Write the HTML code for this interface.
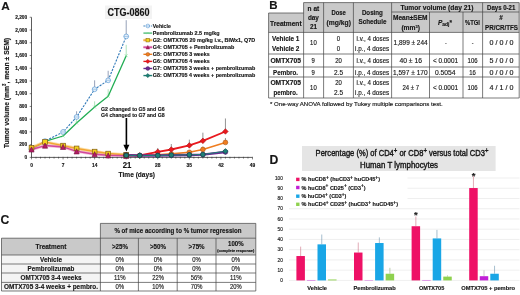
<!DOCTYPE html>
<html><head><meta charset="utf-8"><title>Figure</title>
<style>html,body{margin:0;padding:0;background:#fff;}svg{display:block;}text{font-family:"Liberation Sans", sans-serif;fill:#161616;stroke:#161616;stroke-width:0.14px;}</style>
</head><body>
<svg width="520" height="295" viewBox="0 0 520 295">
<rect x="0" y="0" width="520" height="295" fill="#ffffff"/>
<g id="panelA">
<text x="1.20" y="10.20" font-size="11.80" font-weight="bold" text-anchor="start">A</text>
<rect x="105" y="5.5" width="47" height="13.5" fill="#f3f3f3"/>
<text x="107.40" y="15.70" font-size="10.00" font-weight="bold" text-anchor="start" textLength="42.20" lengthAdjust="spacingAndGlyphs">CTG-0860</text>
<path d="M31.5 17.3 V157.4 H252.5" fill="none" stroke="#333" stroke-width="0.8"/>
<text x="27.20" y="159.15" font-size="4.80" font-weight="bold" text-anchor="end" fill="#333">0</text>
<text x="27.20" y="146.41" font-size="4.80" font-weight="bold" text-anchor="end" fill="#333">200</text>
<text x="27.20" y="133.67" font-size="4.80" font-weight="bold" text-anchor="end" fill="#333">400</text>
<text x="27.20" y="120.93" font-size="4.80" font-weight="bold" text-anchor="end" fill="#333">600</text>
<text x="27.20" y="108.19" font-size="4.80" font-weight="bold" text-anchor="end" fill="#333">800</text>
<text x="27.20" y="95.45" font-size="4.80" font-weight="bold" text-anchor="end" fill="#333">1,000</text>
<text x="27.20" y="82.71" font-size="4.80" font-weight="bold" text-anchor="end" fill="#333">1,200</text>
<text x="27.20" y="69.97" font-size="4.80" font-weight="bold" text-anchor="end" fill="#333">1,400</text>
<text x="27.20" y="57.23" font-size="4.80" font-weight="bold" text-anchor="end" fill="#333">1,600</text>
<text x="27.20" y="44.49" font-size="4.80" font-weight="bold" text-anchor="end" fill="#333">1,800</text>
<text x="27.20" y="31.75" font-size="4.80" font-weight="bold" text-anchor="end" fill="#333">2,000</text>
<text x="27.20" y="19.01" font-size="4.80" font-weight="bold" text-anchor="end" fill="#333">2,200</text>
<path d="M31.5 157.40 h-1.8 M31.5 144.66 h-1.8 M31.5 131.92 h-1.8 M31.5 119.18 h-1.8 M31.5 106.44 h-1.8 M31.5 93.70 h-1.8 M31.5 80.96 h-1.8 M31.5 68.22 h-1.8 M31.5 55.48 h-1.8 M31.5 42.74 h-1.8 M31.5 30.00 h-1.8 M31.5 17.26 h-1.8 M31.50 156.8 v2.6 M36.01 156.8 v1.8 M40.52 156.8 v1.8 M45.03 156.8 v1.8 M49.54 156.8 v1.8 M54.05 156.8 v1.8 M58.56 156.8 v1.8 M63.07 156.8 v2.6 M67.58 156.8 v1.8 M72.09 156.8 v1.8 M76.60 156.8 v1.8 M81.11 156.8 v1.8 M85.62 156.8 v1.8 M90.13 156.8 v1.8 M94.64 156.8 v2.6 M99.15 156.8 v1.8 M103.66 156.8 v1.8 M108.17 156.8 v1.8 M112.68 156.8 v1.8 M117.19 156.8 v1.8 M121.70 156.8 v1.8 M126.21 156.8 v2.6 M130.72 156.8 v1.8 M135.23 156.8 v1.8 M139.74 156.8 v1.8 M144.25 156.8 v1.8 M148.76 156.8 v1.8 M153.27 156.8 v1.8 M157.78 156.8 v2.6 M162.29 156.8 v1.8 M166.80 156.8 v1.8 M171.31 156.8 v1.8 M175.82 156.8 v1.8 M180.33 156.8 v1.8 M184.84 156.8 v1.8 M189.35 156.8 v2.6 M193.86 156.8 v1.8 M198.37 156.8 v1.8 M202.88 156.8 v1.8 M207.39 156.8 v1.8 M211.90 156.8 v1.8 M216.41 156.8 v1.8 M220.92 156.8 v2.6 M225.43 156.8 v1.8 M229.94 156.8 v1.8 M234.45 156.8 v1.8 M238.96 156.8 v1.8 M243.47 156.8 v1.8 M247.98 156.8 v1.8 M252.49 156.8 v2.6" stroke="#333" stroke-width="0.6" fill="none"/>
<text x="31.50" y="167.30" font-size="4.90" font-weight="bold" text-anchor="middle" fill="#333">0</text>
<text x="63.07" y="167.30" font-size="4.90" font-weight="bold" text-anchor="middle" fill="#333">7</text>
<text x="94.64" y="167.30" font-size="4.90" font-weight="bold" text-anchor="middle" fill="#333">14</text>
<text x="157.78" y="167.30" font-size="4.90" font-weight="bold" text-anchor="middle" fill="#333">28</text>
<text x="189.35" y="167.30" font-size="4.90" font-weight="bold" text-anchor="middle" fill="#333">35</text>
<text x="220.92" y="167.30" font-size="4.90" font-weight="bold" text-anchor="middle" fill="#333">42</text>
<text x="252.49" y="167.30" font-size="4.90" font-weight="bold" text-anchor="middle" fill="#333">49</text>
<text x="122.70" y="168.40" font-size="8.20" font-weight="bold" text-anchor="start" textLength="8.70" lengthAdjust="spacingAndGlyphs">21</text>
<text x="118.60" y="176.50" font-size="7.00" font-weight="bold" text-anchor="start" textLength="36.40" lengthAdjust="spacingAndGlyphs">Time (days)</text>
<text transform="translate(8.6,148) rotate(-90)" font-size="7" font-weight="bold" text-anchor="start" textLength="110" lengthAdjust="spacingAndGlyphs">Tumor volume (mm<tspan font-size="4.5" dy="-2.3">3</tspan><tspan dy="2.3">, mean ± SEM)</tspan></text>
<path d="M31.50 149.12 V148.16 M45.03 141.47 V139.56 M63.07 136.00 V133.45 M76.60 123.00 V118.54 M94.64 107.08 V101.34 M108.17 96.25 V89.24 M126.21 55.67 V44.84" stroke="#7ad08e" stroke-width="0.60" fill="none"/>
<polyline points="31.50,149.12 45.03,141.47 63.07,136.00 76.60,123.00 94.64,107.08 108.17,96.25 126.21,55.67" fill="none" stroke="#22ad54" stroke-width="1.30" stroke-linejoin="round"/>
<path d="M30.00 147.62 l3.00 3.00 M30.00 150.62 l3.00 -3.00" stroke="#6fd688" stroke-width="0.50" fill="none"/>
<path d="M43.53 139.97 l3.00 3.00 M43.53 142.97 l3.00 -3.00" stroke="#6fd688" stroke-width="0.50" fill="none"/>
<path d="M61.57 134.50 l3.00 3.00 M61.57 137.50 l3.00 -3.00" stroke="#6fd688" stroke-width="0.50" fill="none"/>
<path d="M75.10 121.50 l3.00 3.00 M75.10 124.50 l3.00 -3.00" stroke="#6fd688" stroke-width="0.50" fill="none"/>
<path d="M93.14 105.58 l3.00 3.00 M93.14 108.58 l3.00 -3.00" stroke="#6fd688" stroke-width="0.50" fill="none"/>
<path d="M106.67 94.75 l3.00 3.00 M106.67 97.75 l3.00 -3.00" stroke="#6fd688" stroke-width="0.50" fill="none"/>
<path d="M124.71 54.17 l3.00 3.00 M124.71 57.17 l3.00 -3.00" stroke="#6fd688" stroke-width="0.50" fill="none"/>
<path d="M31.50 149.12 V148.16 M45.03 141.03 V139.12 M63.07 131.98 V129.12 M76.60 117.01 V111.28 M94.64 89.24 V80.32 M108.17 80.32 V70.77 M126.21 36.43 V20.19" stroke="#4f618a" stroke-width="0.60" fill="none"/>
<polyline points="31.50,149.12 45.03,141.03 63.07,131.98 76.60,117.01 94.64,89.24 108.17,80.32 126.21,36.43" fill="none" stroke="#2f78b8" stroke-width="1.10" stroke-linejoin="round" stroke-dasharray="2.2 1.2"/>
<circle cx="31.50" cy="149.12" r="2.40" fill="#e6f0fa" stroke="#4a90d0" stroke-width="0.60"/>
<path d="M29.10 149.12 h4.80" stroke="#4a90d0" stroke-width="0.4"/>
<circle cx="45.03" cy="141.03" r="2.40" fill="#e6f0fa" stroke="#4a90d0" stroke-width="0.60"/>
<path d="M42.63 141.03 h4.80" stroke="#4a90d0" stroke-width="0.4"/>
<circle cx="63.07" cy="131.98" r="2.40" fill="#e6f0fa" stroke="#4a90d0" stroke-width="0.60"/>
<path d="M60.67 131.98 h4.80" stroke="#4a90d0" stroke-width="0.4"/>
<circle cx="76.60" cy="117.01" r="2.40" fill="#e6f0fa" stroke="#4a90d0" stroke-width="0.60"/>
<path d="M74.20 117.01 h4.80" stroke="#4a90d0" stroke-width="0.4"/>
<circle cx="94.64" cy="89.24" r="2.40" fill="#e6f0fa" stroke="#4a90d0" stroke-width="0.60"/>
<path d="M92.24 89.24 h4.80" stroke="#4a90d0" stroke-width="0.4"/>
<circle cx="108.17" cy="80.32" r="2.40" fill="#e6f0fa" stroke="#4a90d0" stroke-width="0.60"/>
<path d="M105.77 80.32 h4.80" stroke="#4a90d0" stroke-width="0.4"/>
<circle cx="126.21" cy="36.43" r="2.40" fill="#e6f0fa" stroke="#4a90d0" stroke-width="0.60"/>
<path d="M123.81 36.43 h4.80" stroke="#4a90d0" stroke-width="0.4"/>
<polyline points="31.50,147.84 45.03,141.98 63.07,145.62 76.60,148.42 94.64,151.60 108.17,153.58 126.21,154.85" fill="none" stroke="#f7c35a" stroke-width="3.20" stroke-linejoin="round" stroke-opacity="0.55"/>
<polyline points="31.50,149.44 45.03,145.62 63.07,146.89 76.60,151.35 94.64,154.22 108.17,155.36 126.21,155.87" fill="none" stroke="#e58ab8" stroke-width="3.00" stroke-linejoin="round" stroke-opacity="0.5"/>
<polyline points="31.50,147.84 45.03,141.98 63.07,145.62 76.60,148.42 94.64,151.60 108.17,153.58 126.21,154.85" fill="none" stroke="#f2a532" stroke-width="1.50" stroke-linejoin="round"/>
<polyline points="31.50,149.44 45.03,145.62 63.07,146.89 76.60,151.35 94.64,154.22 108.17,155.36 126.21,155.87" fill="none" stroke="#d1479b" stroke-width="1.50" stroke-linejoin="round"/>
<rect x="29.15" y="145.50" width="4.70" height="4.70" fill="#f3d11c" stroke="#7f5a12" stroke-width="0.70"/>
<rect x="42.68" y="139.63" width="4.70" height="4.70" fill="#f3d11c" stroke="#7f5a12" stroke-width="0.70"/>
<rect x="60.72" y="143.27" width="4.70" height="4.70" fill="#f3d11c" stroke="#7f5a12" stroke-width="0.70"/>
<rect x="74.25" y="146.07" width="4.70" height="4.70" fill="#f3d11c" stroke="#7f5a12" stroke-width="0.70"/>
<rect x="92.29" y="149.25" width="4.70" height="4.70" fill="#f3d11c" stroke="#7f5a12" stroke-width="0.70"/>
<rect x="105.82" y="151.23" width="4.70" height="4.70" fill="#f3d11c" stroke="#7f5a12" stroke-width="0.70"/>
<rect x="123.86" y="152.50" width="4.70" height="4.70" fill="#f3d11c" stroke="#7f5a12" stroke-width="0.70"/>
<path d="M31.50 146.84 L34.10 152.04 L28.90 152.04 Z" fill="#b41c64" stroke="#74103f" stroke-width="0.60"/>
<path d="M45.03 143.02 L47.63 148.22 L42.43 148.22 Z" fill="#b41c64" stroke="#74103f" stroke-width="0.60"/>
<path d="M63.07 144.29 L65.67 149.49 L60.47 149.49 Z" fill="#b41c64" stroke="#74103f" stroke-width="0.60"/>
<path d="M76.60 148.75 L79.20 153.95 L74.00 153.95 Z" fill="#b41c64" stroke="#74103f" stroke-width="0.60"/>
<path d="M94.64 151.62 L97.24 156.81 L92.04 156.81 Z" fill="#b41c64" stroke="#74103f" stroke-width="0.60"/>
<path d="M108.17 152.76 L110.77 157.96 L105.57 157.96 Z" fill="#b41c64" stroke="#74103f" stroke-width="0.60"/>
<path d="M126.21 153.27 L128.81 158.47 L123.61 158.47 Z" fill="#b41c64" stroke="#74103f" stroke-width="0.60"/>
<path d="M157.78 151.79 V147.97 M171.31 149.50 V144.02 M189.35 145.42 V139.63 M202.88 140.84 V132.68 M225.43 131.47 V118.48" stroke="#4a4a4a" stroke-width="0.60" fill="none"/>
<path d="M157.78 154.85 V153.90 M171.31 153.90 V152.30 M189.35 152.30 V150.01 M202.88 149.50 V146.51 M225.43 142.43 V137.97" stroke="#4a4a4a" stroke-width="0.60" fill="none"/>
<polyline points="126.21,155.30 139.74,155.49 157.78,154.85 171.31,153.90 189.35,152.30 202.88,149.50 225.43,142.43" fill="none" stroke="#ef7d20" stroke-width="1.60" stroke-linejoin="round"/>
<polyline points="126.21,155.30 139.74,155.49 157.78,151.79 171.31,149.50 189.35,145.42 202.88,140.84 225.43,131.47" fill="none" stroke="#e9191e" stroke-width="1.80" stroke-linejoin="round"/>
<polyline points="126.21,155.30 139.74,155.49 157.78,155.49 171.31,155.30 189.35,154.98 202.88,154.60 225.43,151.99" fill="none" stroke="#6a2c91" stroke-width="2.40" stroke-linejoin="round"/>
<polyline points="126.21,155.30 139.74,155.49 157.78,155.49 171.31,155.11 189.35,154.85 202.88,154.47 225.43,151.22" fill="none" stroke="#1e7f76" stroke-width="1.00" stroke-linejoin="round"/>
<circle cx="126.21" cy="155.30" r="2.40" fill="#ef7d20" stroke="#96480f" stroke-width="0.50"/>
<circle cx="139.74" cy="155.49" r="2.40" fill="#ef7d20" stroke="#96480f" stroke-width="0.50"/>
<circle cx="157.78" cy="154.85" r="2.40" fill="#ef7d20" stroke="#96480f" stroke-width="0.50"/>
<circle cx="171.31" cy="153.90" r="2.40" fill="#ef7d20" stroke="#96480f" stroke-width="0.50"/>
<circle cx="189.35" cy="152.30" r="2.40" fill="#ef7d20" stroke="#96480f" stroke-width="0.50"/>
<circle cx="202.88" cy="149.50" r="2.40" fill="#ef7d20" stroke="#96480f" stroke-width="0.50"/>
<circle cx="225.43" cy="142.43" r="2.40" fill="#ef7d20" stroke="#96480f" stroke-width="0.50"/>
<path d="M126.21 152.50 L129.01 155.30 L126.21 158.10 L123.41 155.30 Z" fill="#e9191e" stroke="#9e0c11" stroke-width="0.50"/>
<path d="M139.74 152.69 L142.54 155.49 L139.74 158.29 L136.94 155.49 Z" fill="#e9191e" stroke="#9e0c11" stroke-width="0.50"/>
<path d="M157.78 148.99 L160.58 151.79 L157.78 154.59 L154.98 151.79 Z" fill="#e9191e" stroke="#9e0c11" stroke-width="0.50"/>
<path d="M171.31 146.70 L174.11 149.50 L171.31 152.30 L168.51 149.50 Z" fill="#e9191e" stroke="#9e0c11" stroke-width="0.50"/>
<path d="M189.35 142.62 L192.15 145.42 L189.35 148.22 L186.55 145.42 Z" fill="#e9191e" stroke="#9e0c11" stroke-width="0.50"/>
<path d="M202.88 138.04 L205.68 140.84 L202.88 143.64 L200.08 140.84 Z" fill="#e9191e" stroke="#9e0c11" stroke-width="0.50"/>
<path d="M225.43 128.67 L228.23 131.47 L225.43 134.27 L222.63 131.47 Z" fill="#e9191e" stroke="#9e0c11" stroke-width="0.50"/>
<circle cx="126.21" cy="155.30" r="2.40" fill="#6a2c91" stroke="#3b1260" stroke-width="0.50"/>
<circle cx="139.74" cy="155.49" r="2.40" fill="#6a2c91" stroke="#3b1260" stroke-width="0.50"/>
<circle cx="157.78" cy="155.49" r="2.40" fill="#6a2c91" stroke="#3b1260" stroke-width="0.50"/>
<circle cx="171.31" cy="155.30" r="2.40" fill="#6a2c91" stroke="#3b1260" stroke-width="0.50"/>
<circle cx="189.35" cy="154.98" r="2.40" fill="#6a2c91" stroke="#3b1260" stroke-width="0.50"/>
<circle cx="202.88" cy="154.60" r="2.40" fill="#6a2c91" stroke="#3b1260" stroke-width="0.50"/>
<circle cx="225.43" cy="151.99" r="2.40" fill="#6a2c91" stroke="#3b1260" stroke-width="0.50"/>
<circle cx="126.21" cy="155.30" r="2.30" fill="#1e7f76" stroke="#0b4b45" stroke-width="0.60"/>
<circle cx="139.74" cy="155.49" r="2.30" fill="#1e7f76" stroke="#0b4b45" stroke-width="0.60"/>
<circle cx="157.78" cy="155.49" r="2.30" fill="#1e7f76" stroke="#0b4b45" stroke-width="0.60"/>
<circle cx="171.31" cy="155.11" r="2.30" fill="#1e7f76" stroke="#0b4b45" stroke-width="0.60"/>
<circle cx="189.35" cy="154.85" r="2.30" fill="#1e7f76" stroke="#0b4b45" stroke-width="0.60"/>
<circle cx="202.88" cy="154.47" r="2.30" fill="#1e7f76" stroke="#0b4b45" stroke-width="0.60"/>
<path d="M225.43 148.52 L228.13 151.22 L225.43 153.92 L222.73 151.22 Z" fill="#1e7f76" stroke="#0b4b45" stroke-width="0.50"/>
<rect x="123.91" y="153.00" width="4.6" height="4.6" fill="none" stroke="#3a3a2a" stroke-width="0.6"/>
<path d="M126.4 118 V146" stroke="#000" stroke-width="1.6" fill="none"/>
<path d="M123.4 144.8 L129.4 144.8 L126.4 151.4 Z" fill="#000"/>
<text x="101.00" y="111.00" font-size="5.20" font-weight="bold" text-anchor="start" textLength="63.60" lengthAdjust="spacingAndGlyphs">G2 changed to G5 and G6</text>
<text x="101.00" y="117.30" font-size="5.20" font-weight="bold" text-anchor="start" textLength="63.60" lengthAdjust="spacingAndGlyphs">G4 changed to G7 and G8</text>
<path d="M143.4 26.00 H152.2" stroke="#2f78b8" stroke-width="0.9" stroke-dasharray="1.6 0.9"/>
<circle cx="147.80" cy="26.00" r="1.90" fill="#e6f0fa" stroke="#4a90d0" stroke-width="0.50"/>
<path d="M145.90 26.00 h3.80" stroke="#4a90d0" stroke-width="0.4"/>
<text x="152.80" y="27.85" font-size="5.30" font-weight="bold" text-anchor="start" textLength="18.00" lengthAdjust="spacingAndGlyphs">Vehicle</text>
<path d="M143.4 33.08 H152.2" stroke="#22ad54" stroke-width="1.1"/>
<path d="M146.70 31.98 l2.20 2.20 M146.70 34.18 l2.20 -2.20" stroke="#6fd688" stroke-width="0.40" fill="none"/>
<text x="152.80" y="34.93" font-size="5.30" font-weight="bold" text-anchor="start" textLength="66.80" lengthAdjust="spacingAndGlyphs">Pembrolizumab 2.5 mg/kg</text>
<path d="M143.4 40.16 H152.2" stroke="#f7c35a" stroke-width="2.8" stroke-opacity="0.6"/>
<path d="M143.4 40.16 H152.2" stroke="#f2a532" stroke-width="1.3"/>
<rect x="146.00" y="38.36" width="3.60" height="3.60" fill="#f3d11c" stroke="#7f5a12" stroke-width="0.50"/>
<text x="152.80" y="42.01" font-size="5.30" font-weight="bold" text-anchor="start" textLength="102.40" lengthAdjust="spacingAndGlyphs">G2: OMTX705 20 mg/kg i.v., BIWx1, Q7D</text>
<path d="M143.4 47.24 H152.2" stroke="#e58ab8" stroke-width="2.8" stroke-opacity="0.6"/>
<path d="M143.4 47.24 H152.2" stroke="#d1479b" stroke-width="1.3"/>
<path d="M147.80 45.44 L149.60 49.04 L146.00 49.04 Z" fill="#b41c64" stroke="#74103f" stroke-width="0.40"/>
<text x="152.80" y="49.09" font-size="5.30" font-weight="bold" text-anchor="start" textLength="81.40" lengthAdjust="spacingAndGlyphs">G4: OMTX705 + Pembrolizumab</text>
<path d="M143.4 54.32 H152.2" stroke="#ef7d20" stroke-width="1.4"/>
<circle cx="147.80" cy="54.32" r="1.90" fill="#ef7d20" stroke="#96480f" stroke-width="0.40"/>
<text x="152.80" y="56.17" font-size="5.30" font-weight="bold" text-anchor="start" textLength="57.00" lengthAdjust="spacingAndGlyphs">G5: OMTX705 3 weeks</text>
<path d="M143.4 61.40 H152.2" stroke="#e9191e" stroke-width="1.4"/>
<path d="M147.80 59.30 L149.90 61.40 L147.80 63.50 L145.70 61.40 Z" fill="#e9191e" stroke="#9e0c11" stroke-width="0.40"/>
<text x="152.80" y="63.25" font-size="5.30" font-weight="bold" text-anchor="start" textLength="57.00" lengthAdjust="spacingAndGlyphs">G6: OMTX705 4 weeks</text>
<path d="M143.4 68.48 H152.2" stroke="#6a2c91" stroke-width="1.4"/>
<circle cx="147.80" cy="68.48" r="1.90" fill="#6a2c91" stroke="#3b1260" stroke-width="0.40"/>
<text x="152.80" y="70.33" font-size="5.30" font-weight="bold" text-anchor="start" textLength="102.40" lengthAdjust="spacingAndGlyphs">G7: OMTX705 3 weeks + pembrolizumab</text>
<path d="M143.4 75.56 H152.2" stroke="#1e7f76" stroke-width="1.4"/>
<path d="M147.80 73.46 L149.90 75.56 L147.80 77.66 L145.70 75.56 Z" fill="#1e7f76" stroke="#0b4b45" stroke-width="0.40"/>
<text x="152.80" y="77.41" font-size="5.30" font-weight="bold" text-anchor="start" textLength="102.40" lengthAdjust="spacingAndGlyphs">G8: OMTX705 4 weeks + pembrolizumab</text>
</g>
<g id="panelB">
<text x="269.30" y="9.20" font-size="11.50" font-weight="bold" text-anchor="start">B</text>
<rect x="268.6" y="13" width="35.0" height="19.4" fill="#c9c9c9"/>
<rect x="303.6" y="2.6" width="215.6" height="29.8" fill="#c9c9c9"/>
<path d="M268.6 13 H303.6 M303.6 2.6 H519.2 M391.6 12 H519.2 M268.6 32.4 H519.2 M268.6 54.0 H519.2 M268.6 67.0 H519.2 M268.6 77.0 H519.2 M268.6 98.0 H519.2 M268.6 13 V98 M303.6 2.6 V98 M323.6 2.6 V98 M353.4 2.6 V98 M391.6 2.6 V98 M429.5 12 V98 M463.0 12 V98 M482.6 2.6 V98 M519.2 2.6 V98" stroke="#444" stroke-width="0.7" fill="none"/>
<text x="270.00" y="25.70" font-size="6.40" font-weight="bold" text-anchor="start" textLength="31.60" lengthAdjust="spacingAndGlyphs">Treatment</text>
<text x="307.60" y="10.60" font-size="6.40" font-weight="bold" text-anchor="start" textLength="11.60" lengthAdjust="spacingAndGlyphs">n at</text>
<text x="307.90" y="19.60" font-size="6.40" font-weight="bold" text-anchor="start" textLength="11.00" lengthAdjust="spacingAndGlyphs">day</text>
<text x="309.90" y="29.40" font-size="6.40" font-weight="bold" text-anchor="start" textLength="7.00" lengthAdjust="spacingAndGlyphs">21</text>
<text x="331.40" y="15.30" font-size="6.40" font-weight="bold" text-anchor="start" textLength="14.40" lengthAdjust="spacingAndGlyphs">Dose</text>
<text x="326.60" y="24.60" font-size="6.40" font-weight="bold" text-anchor="start" textLength="24.40" lengthAdjust="spacingAndGlyphs">(mg/kg)</text>
<text x="361.90" y="15.30" font-size="6.40" font-weight="bold" text-anchor="start" textLength="21.00" lengthAdjust="spacingAndGlyphs">Dosing</text>
<text x="358.60" y="23.90" font-size="6.40" font-weight="bold" text-anchor="start" textLength="27.80" lengthAdjust="spacingAndGlyphs">Schedule</text>
<text x="400.60" y="9.80" font-size="6.40" font-weight="bold" text-anchor="start" textLength="72.80" lengthAdjust="spacingAndGlyphs">Tumor volume (day 21)</text>
<text x="393.00" y="20.30" font-size="6.40" font-weight="bold" text-anchor="start" textLength="34.60" lengthAdjust="spacingAndGlyphs">Mean±SEM</text>
<text x="401.4" y="30.2" font-size="6.40" font-weight="bold" textLength="18.6" lengthAdjust="spacingAndGlyphs">(mm<tspan font-size="3.8" dy="-2.4">3</tspan><tspan dy="2.4">)</tspan></text>
<text x="438" y="24.6" font-size="6.40" font-weight="bold" textLength="14" lengthAdjust="spacingAndGlyphs"><tspan font-style="italic">P</tspan><tspan font-size="4.9" dy="1.4">adj</tspan><tspan dy="-1.4">*</tspan></text>
<text x="465.00" y="25.20" font-size="6.40" font-weight="bold" text-anchor="start" textLength="15.00" lengthAdjust="spacingAndGlyphs">%TGI</text>
<text x="487.00" y="10.20" font-size="6.40" font-weight="bold" text-anchor="start" textLength="28.40" lengthAdjust="spacingAndGlyphs">Days 0-21</text>
<text x="499.20" y="20.30" font-size="6.40" font-weight="bold" text-anchor="start" textLength="3.60" lengthAdjust="spacingAndGlyphs">#</text>
<text x="485.00" y="29.90" font-size="6.40" font-weight="bold" text-anchor="start" textLength="33.00" lengthAdjust="spacingAndGlyphs">PR/CR/TFS</text>
<text x="272.00" y="40.85" font-size="6.40" font-weight="bold" text-anchor="start" textLength="27.40" lengthAdjust="spacingAndGlyphs">Vehicle 1</text>
<text x="272.00" y="50.65" font-size="6.40" font-weight="bold" text-anchor="start" textLength="27.40" lengthAdjust="spacingAndGlyphs">Vehicle 2</text>
<text x="310.10" y="45.25" font-size="6.40" font-weight="normal" text-anchor="start" textLength="6.60" lengthAdjust="spacingAndGlyphs">10</text>
<text x="336.85" y="40.85" font-size="6.40" font-weight="normal" text-anchor="start" textLength="3.30" lengthAdjust="spacingAndGlyphs">0</text>
<text x="336.85" y="50.65" font-size="6.40" font-weight="normal" text-anchor="start" textLength="3.30" lengthAdjust="spacingAndGlyphs">0</text>
<text x="356.60" y="40.70" font-size="6.40" font-weight="normal" text-anchor="start" textLength="32.60" lengthAdjust="spacingAndGlyphs">i.v., 4 doses</text>
<text x="355.00" y="50.60" font-size="6.40" font-weight="normal" text-anchor="start" textLength="34.20" lengthAdjust="spacingAndGlyphs">i.p., 4 doses</text>
<text x="393.60" y="45.30" font-size="6.40" font-weight="normal" text-anchor="start" textLength="34.00" lengthAdjust="spacingAndGlyphs">1,899 ± 244</text>
<text x="445.10" y="45.25" font-size="6.40" font-weight="normal" text-anchor="start" textLength="1.80" lengthAdjust="spacingAndGlyphs">-</text>
<text x="471.70" y="45.25" font-size="6.40" font-weight="normal" text-anchor="start" textLength="1.80" lengthAdjust="spacingAndGlyphs">-</text>
<text x="489.60" y="45.30" font-size="6.40" font-weight="normal" text-anchor="start" textLength="23.80" lengthAdjust="spacingAndGlyphs">0 / 0 / 0</text>
<text x="270.40" y="62.70" font-size="6.40" font-weight="bold" text-anchor="start" textLength="30.60" lengthAdjust="spacingAndGlyphs">OMTX705</text>
<text x="311.55" y="62.65" font-size="6.40" font-weight="normal" text-anchor="start" textLength="3.30" lengthAdjust="spacingAndGlyphs">9</text>
<text x="335.20" y="62.65" font-size="6.40" font-weight="normal" text-anchor="start" textLength="6.60" lengthAdjust="spacingAndGlyphs">20</text>
<text x="356.60" y="62.70" font-size="6.40" font-weight="normal" text-anchor="start" textLength="32.60" lengthAdjust="spacingAndGlyphs">i.v., 4 doses</text>
<text x="399.40" y="62.70" font-size="6.40" font-weight="normal" text-anchor="start" textLength="22.60" lengthAdjust="spacingAndGlyphs">40 ± 16</text>
<text x="433.00" y="62.70" font-size="6.40" font-weight="normal" text-anchor="start" textLength="25.00" lengthAdjust="spacingAndGlyphs">&lt; 0.0001</text>
<text x="467.60" y="62.65" font-size="6.40" font-weight="normal" text-anchor="start" textLength="10.00" lengthAdjust="spacingAndGlyphs">106</text>
<text x="489.60" y="62.70" font-size="6.40" font-weight="normal" text-anchor="start" textLength="23.80" lengthAdjust="spacingAndGlyphs">5 / 0 / 0</text>
<text x="273.00" y="74.70" font-size="6.40" font-weight="bold" text-anchor="start" textLength="25.00" lengthAdjust="spacingAndGlyphs">Pembro.</text>
<text x="311.55" y="74.65" font-size="6.40" font-weight="normal" text-anchor="start" textLength="3.30" lengthAdjust="spacingAndGlyphs">9</text>
<text x="334.00" y="74.65" font-size="6.40" font-weight="normal" text-anchor="start" textLength="9.00" lengthAdjust="spacingAndGlyphs">2.5</text>
<text x="355.00" y="74.70" font-size="6.40" font-weight="normal" text-anchor="start" textLength="34.20" lengthAdjust="spacingAndGlyphs">i.p., 4 doses</text>
<text x="393.00" y="74.70" font-size="6.40" font-weight="normal" text-anchor="start" textLength="34.60" lengthAdjust="spacingAndGlyphs">1,597 ± 170</text>
<text x="435.00" y="74.70" font-size="6.40" font-weight="normal" text-anchor="start" textLength="20.60" lengthAdjust="spacingAndGlyphs">0.5054</text>
<text x="469.30" y="74.65" font-size="6.40" font-weight="normal" text-anchor="start" textLength="6.60" lengthAdjust="spacingAndGlyphs">16</text>
<text x="489.60" y="74.70" font-size="6.40" font-weight="normal" text-anchor="start" textLength="23.80" lengthAdjust="spacingAndGlyphs">0 / 0 / 0</text>
<text x="270.40" y="84.70" font-size="6.40" font-weight="bold" text-anchor="start" textLength="30.60" lengthAdjust="spacingAndGlyphs">OMTX705</text>
<text x="273.60" y="94.70" font-size="6.40" font-weight="bold" text-anchor="start" textLength="24.00" lengthAdjust="spacingAndGlyphs">pembro.</text>
<text x="310.10" y="89.65" font-size="6.40" font-weight="normal" text-anchor="start" textLength="6.60" lengthAdjust="spacingAndGlyphs">10</text>
<text x="335.20" y="84.65" font-size="6.40" font-weight="normal" text-anchor="start" textLength="6.60" lengthAdjust="spacingAndGlyphs">20</text>
<text x="334.00" y="94.65" font-size="6.40" font-weight="normal" text-anchor="start" textLength="9.00" lengthAdjust="spacingAndGlyphs">2.5</text>
<text x="356.60" y="84.70" font-size="6.40" font-weight="normal" text-anchor="start" textLength="32.60" lengthAdjust="spacingAndGlyphs">i.v., 4 doses</text>
<text x="355.00" y="94.70" font-size="6.40" font-weight="normal" text-anchor="start" textLength="34.20" lengthAdjust="spacingAndGlyphs">i.p., 4 doses</text>
<text x="402.40" y="89.70" font-size="6.40" font-weight="normal" text-anchor="start" textLength="16.60" lengthAdjust="spacingAndGlyphs">24 ± 7</text>
<text x="433.00" y="89.70" font-size="6.40" font-weight="normal" text-anchor="start" textLength="25.00" lengthAdjust="spacingAndGlyphs">&lt; 0.0001</text>
<text x="467.60" y="89.65" font-size="6.40" font-weight="normal" text-anchor="start" textLength="10.00" lengthAdjust="spacingAndGlyphs">106</text>
<text x="489.60" y="89.70" font-size="6.40" font-weight="normal" text-anchor="start" textLength="23.80" lengthAdjust="spacingAndGlyphs">4 / 1 / 0</text>
<text x="270.00" y="105.50" font-size="5.60" font-weight="normal" text-anchor="start" textLength="172.60" lengthAdjust="spacingAndGlyphs">* One-way ANOVA followed by Tukey multiple comparisons test.</text>
</g>
<g id="panelC">
<text x="0.60" y="223.50" font-size="12.20" font-weight="bold" text-anchor="start">C</text>
<rect x="100.4" y="223.4" width="155.4" height="14.8" fill="#c9c9c9"/>
<rect x="1.5" y="238.2" width="254.3" height="16.8" fill="#c9c9c9"/>
<rect x="1.5" y="255" width="98.9" height="36" fill="#f4f4f4"/>
<path d="M100.4 223.4 H255.8 M1.5 238.2 H255.8 M1.5 255.0 H255.8 M1.5 264.0 H255.8 M1.5 273.0 H255.8 M1.5 282.4 H255.8 M1.5 291.0 H255.8 M1.5 238.2 V291 M100.4 223.4 V291 M138.4 238.2 V291 M177.2 238.2 V291 M216.0 238.2 V291 M255.8 223.4 V291" stroke="#444" stroke-width="0.7" fill="none"/>
<text x="114.40" y="232.70" font-size="6.40" font-weight="bold" text-anchor="start" textLength="127.20" lengthAdjust="spacingAndGlyphs">% of mice according to % tumor regression</text>
<text x="35.60" y="248.70" font-size="6.40" font-weight="bold" text-anchor="start" textLength="30.80" lengthAdjust="spacingAndGlyphs">Treatment</text>
<text x="112.00" y="248.60" font-size="6.40" font-weight="bold" text-anchor="start" textLength="16.00" lengthAdjust="spacingAndGlyphs">&gt;25%</text>
<text x="150.00" y="248.60" font-size="6.40" font-weight="bold" text-anchor="start" textLength="16.00" lengthAdjust="spacingAndGlyphs">&gt;50%</text>
<text x="188.60" y="248.60" font-size="6.40" font-weight="bold" text-anchor="start" textLength="16.00" lengthAdjust="spacingAndGlyphs">&gt;75%</text>
<text x="228.00" y="245.80" font-size="6.40" font-weight="bold" text-anchor="start" textLength="15.60" lengthAdjust="spacingAndGlyphs">100%</text>
<text x="217.20" y="252.30" font-size="3.20" font-weight="bold" text-anchor="start" textLength="37.00" lengthAdjust="spacingAndGlyphs">(complete response)</text>
<text x="40.00" y="261.60" font-size="6.40" font-weight="bold" text-anchor="start" textLength="22.00" lengthAdjust="spacingAndGlyphs">Vehicle</text>
<text x="115.50" y="261.60" font-size="6.40" font-weight="normal" text-anchor="start" textLength="8.60" lengthAdjust="spacingAndGlyphs">0%</text>
<text x="153.70" y="261.60" font-size="6.40" font-weight="normal" text-anchor="start" textLength="8.60" lengthAdjust="spacingAndGlyphs">0%</text>
<text x="192.30" y="261.60" font-size="6.40" font-weight="normal" text-anchor="start" textLength="8.60" lengthAdjust="spacingAndGlyphs">0%</text>
<text x="231.50" y="261.60" font-size="6.40" font-weight="normal" text-anchor="start" textLength="8.60" lengthAdjust="spacingAndGlyphs">0%</text>
<text x="27.60" y="270.50" font-size="6.40" font-weight="bold" text-anchor="start" textLength="46.80" lengthAdjust="spacingAndGlyphs">Pembrolizumab</text>
<text x="115.50" y="270.50" font-size="6.40" font-weight="normal" text-anchor="start" textLength="8.60" lengthAdjust="spacingAndGlyphs">0%</text>
<text x="153.70" y="270.50" font-size="6.40" font-weight="normal" text-anchor="start" textLength="8.60" lengthAdjust="spacingAndGlyphs">0%</text>
<text x="192.30" y="270.50" font-size="6.40" font-weight="normal" text-anchor="start" textLength="8.60" lengthAdjust="spacingAndGlyphs">0%</text>
<text x="231.50" y="270.50" font-size="6.40" font-weight="normal" text-anchor="start" textLength="8.60" lengthAdjust="spacingAndGlyphs">0%</text>
<text x="20.50" y="280.10" font-size="6.40" font-weight="bold" text-anchor="start" textLength="61.00" lengthAdjust="spacingAndGlyphs">OMTX705 3-4 weeks</text>
<text x="114.00" y="280.10" font-size="6.40" font-weight="normal" text-anchor="start" textLength="11.60" lengthAdjust="spacingAndGlyphs">11%</text>
<text x="152.20" y="280.10" font-size="6.40" font-weight="normal" text-anchor="start" textLength="11.60" lengthAdjust="spacingAndGlyphs">22%</text>
<text x="190.80" y="280.10" font-size="6.40" font-weight="normal" text-anchor="start" textLength="11.60" lengthAdjust="spacingAndGlyphs">56%</text>
<text x="230.00" y="280.10" font-size="6.40" font-weight="normal" text-anchor="start" textLength="11.60" lengthAdjust="spacingAndGlyphs">11%</text>
<text x="4.00" y="289.30" font-size="6.40" font-weight="bold" text-anchor="start" textLength="94.00" lengthAdjust="spacingAndGlyphs">OMTX705 3-4 weeks + pembro.</text>
<text x="115.50" y="289.30" font-size="6.40" font-weight="normal" text-anchor="start" textLength="8.60" lengthAdjust="spacingAndGlyphs">0%</text>
<text x="152.20" y="289.30" font-size="6.40" font-weight="normal" text-anchor="start" textLength="11.60" lengthAdjust="spacingAndGlyphs">10%</text>
<text x="190.80" y="289.30" font-size="6.40" font-weight="normal" text-anchor="start" textLength="11.60" lengthAdjust="spacingAndGlyphs">70%</text>
<text x="230.00" y="289.30" font-size="6.40" font-weight="normal" text-anchor="start" textLength="11.60" lengthAdjust="spacingAndGlyphs">20%</text>
</g>
<g id="panelD">
<text x="269.40" y="164.00" font-size="12.20" font-weight="bold" text-anchor="start">D</text>
<rect x="302" y="146" width="193.6" height="25" fill="#e5e5e5"/>
<text x="315.6" y="156" font-size="8.4" font-weight="normal" textLength="172.8" lengthAdjust="spacingAndGlyphs" style="stroke-width:0.38px">Percentage (%) of CD4<tspan font-size="6.6" dy="-3.1">+</tspan><tspan dy="3.1"> or CD8</tspan><tspan font-size="6.6" dy="-3.1">+</tspan><tspan dy="3.1"> versus total CD3</tspan><tspan font-size="6.6" dy="-3.1">+</tspan></text>
<text x="360" y="168.2" font-size="8.4" font-weight="normal" textLength="78" lengthAdjust="spacingAndGlyphs" style="stroke-width:0.38px">Human T lymphocytes</text>
<text x="282.80" y="282.10" font-size="4.70" font-weight="normal" text-anchor="end" fill="#222">0</text>
<text x="282.80" y="271.86" font-size="4.70" font-weight="normal" text-anchor="end" fill="#222">10</text>
<text x="282.80" y="261.62" font-size="4.70" font-weight="normal" text-anchor="end" fill="#222">20</text>
<text x="282.80" y="251.38" font-size="4.70" font-weight="normal" text-anchor="end" fill="#222">30</text>
<text x="282.80" y="241.14" font-size="4.70" font-weight="normal" text-anchor="end" fill="#222">40</text>
<text x="282.80" y="230.90" font-size="4.70" font-weight="normal" text-anchor="end" fill="#222">50</text>
<text x="282.80" y="220.66" font-size="4.70" font-weight="normal" text-anchor="end" fill="#222">60</text>
<text x="282.80" y="210.42" font-size="4.70" font-weight="normal" text-anchor="end" fill="#222">70</text>
<text x="282.80" y="200.18" font-size="4.70" font-weight="normal" text-anchor="end" fill="#222">80</text>
<text x="282.80" y="189.94" font-size="4.70" font-weight="normal" text-anchor="end" fill="#222">90</text>
<text x="282.80" y="179.70" font-size="4.70" font-weight="normal" text-anchor="end" fill="#222">100</text>
<path d="M289 280.40 H519.5 M289 270.16 H519.5 M289 259.92 H519.5 M289 249.68 H519.5 M289 239.44 H519.5 M289 229.20 H519.5 M289 218.96 H519.5 M289 208.72 H519.5 M289 198.48 H519.5 M289 188.24 H519.5 M289 178.00 H519.5" stroke="#dedede" stroke-width="0.5" fill="none"/>
<rect x="288.5" y="175" width="119" height="33" fill="#ffffff"/>
<path d="M300.65 256.03 V246.61" stroke="#c4566f" stroke-width="0.5"/>
<rect x="296.40" y="256.03" width="8.50" height="24.37" fill="#ee1166"/>
<rect x="306.95" y="279.99" width="8.50" height="0.41" fill="#c11fd6"/>
<path d="M321.75 244.36 V234.52" stroke="#4f7f9f" stroke-width="0.5"/>
<rect x="317.50" y="244.36" width="8.50" height="36.04" fill="#19a6e6"/>
<rect x="328.05" y="279.48" width="8.50" height="0.92" fill="#8fd14f"/>
<path d="M358.25 252.55 V242.51" stroke="#c4566f" stroke-width="0.5"/>
<rect x="354.00" y="252.55" width="8.50" height="27.85" fill="#ee1166"/>
<rect x="364.55" y="280.09" width="8.50" height="0.31" fill="#c11fd6"/>
<path d="M379.35 243.02 V237.39" stroke="#4f7f9f" stroke-width="0.5"/>
<rect x="375.10" y="243.02" width="8.50" height="37.38" fill="#19a6e6"/>
<path d="M389.90 273.74 V267.80" stroke="#7f9f5f" stroke-width="0.5"/>
<rect x="385.65" y="273.74" width="8.50" height="6.66" fill="#8fd14f"/>
<path d="M415.85 226.23 V216.50" stroke="#c4566f" stroke-width="0.5"/>
<rect x="411.60" y="226.23" width="8.50" height="54.17" fill="#ee1166"/>
<rect x="422.15" y="279.99" width="8.50" height="0.41" fill="#c11fd6"/>
<path d="M436.95 238.42 V229.92" stroke="#4f7f9f" stroke-width="0.5"/>
<rect x="432.70" y="238.42" width="8.50" height="41.98" fill="#19a6e6"/>
<path d="M447.50 276.61 V275.38" stroke="#7f9f5f" stroke-width="0.5"/>
<rect x="443.25" y="276.61" width="8.50" height="3.79" fill="#8fd14f"/>
<path d="M473.45 188.04 V175.95" stroke="#c4566f" stroke-width="0.5"/>
<rect x="469.20" y="188.04" width="8.50" height="92.36" fill="#ee1166"/>
<path d="M484.00 276.20 V270.36" stroke="#9a8a9a" stroke-width="0.5"/>
<rect x="479.75" y="276.20" width="8.50" height="4.20" fill="#c11fd6"/>
<path d="M494.55 273.74 V265.76" stroke="#4f7f9f" stroke-width="0.5"/>
<rect x="490.30" y="273.74" width="8.50" height="6.66" fill="#19a6e6"/>
<text x="415.80" y="218.40" font-size="9.50" font-weight="bold" text-anchor="middle">*</text>
<text x="473.60" y="178.80" font-size="9.50" font-weight="bold" text-anchor="middle">*</text>
<text x="307.30" y="289.60" font-size="5.60" font-weight="bold" text-anchor="start" textLength="19.70" lengthAdjust="spacingAndGlyphs">Vehicle</text>
<text x="353.50" y="289.60" font-size="5.60" font-weight="bold" text-anchor="start" textLength="42.20" lengthAdjust="spacingAndGlyphs">Pembrolizumab</text>
<text x="419.00" y="289.90" font-size="5.60" font-weight="bold" text-anchor="start" textLength="25.30" lengthAdjust="spacingAndGlyphs">OMTX705</text>
<text x="461.20" y="289.90" font-size="5.60" font-weight="bold" text-anchor="start" textLength="53.80" lengthAdjust="spacingAndGlyphs">OMTX705 + pembro</text>
<rect x="296.1" y="177.70" width="3.4" height="3.4" fill="#ee1166"/>
<text x="301.6" y="181.40" font-size="5.7" font-weight="bold" textLength="78.40" lengthAdjust="spacingAndGlyphs">%  huCD8<tspan font-size="5.0" dy="-2.1">+</tspan><tspan dy="2.1"> (huCD3</tspan><tspan font-size="5.0" dy="-2.1">+</tspan><tspan dy="2.1"> huCD45</tspan><tspan font-size="5.0" dy="-2.1">+</tspan><tspan dy="2.1">)</tspan></text>
<rect x="296.1" y="185.80" width="3.4" height="3.4" fill="#c11fd6"/>
<text x="301.6" y="189.50" font-size="5.7" font-weight="bold" textLength="64.00" lengthAdjust="spacingAndGlyphs">% huCD8<tspan font-size="5.0" dy="-2.1">+</tspan><tspan dy="2.1"> CD25</tspan><tspan font-size="5.0" dy="-2.1">+</tspan><tspan dy="2.1"> (CD3</tspan><tspan font-size="5.0" dy="-2.1">+</tspan><tspan dy="2.1">)</tspan></text>
<rect x="296.1" y="194.50" width="3.4" height="3.4" fill="#19a6e6"/>
<text x="301.6" y="198.20" font-size="5.7" font-weight="bold" textLength="44.80" lengthAdjust="spacingAndGlyphs">% huCD4<tspan font-size="5.0" dy="-2.1">+</tspan><tspan dy="2.1"> (CD3</tspan><tspan font-size="5.0" dy="-2.1">+</tspan><tspan dy="2.1">)</tspan></text>
<rect x="296.1" y="202.60" width="3.4" height="3.4" fill="#8fd14f"/>
<text x="301.6" y="206.30" font-size="5.7" font-weight="bold" textLength="96.40" lengthAdjust="spacingAndGlyphs">% huCD4<tspan font-size="5.0" dy="-2.1">+</tspan><tspan dy="2.1"> CD25</tspan><tspan font-size="5.0" dy="-2.1">+</tspan><tspan dy="2.1"> (huCD3</tspan><tspan font-size="5.0" dy="-2.1">+</tspan><tspan dy="2.1"> huCD45</tspan><tspan font-size="5.0" dy="-2.1">+</tspan><tspan dy="2.1">)</tspan></text>
</g>
</svg>
</body></html>
